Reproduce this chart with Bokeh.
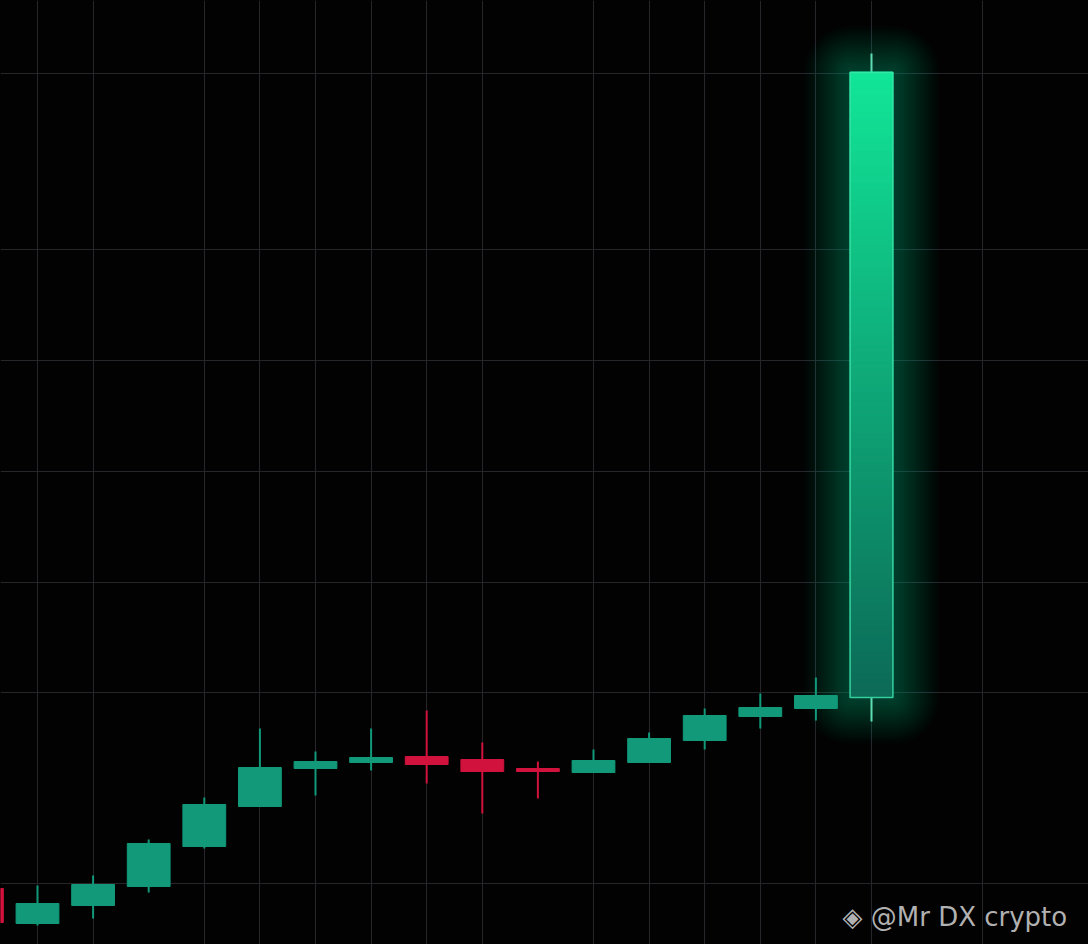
import numpy as np
from bokeh.plotting import figure
from bokeh.models import Range1d, Grid, FixedTicker, ColumnDataSource, Label, GlobalInlineStyleSheet
from bokeh.embed import file_html
from bokeh.resources import INLINE

# ---- data (price units) ----
idx   = [-1, 0, 1, 2, 3, 4, 5, 6, 7, 8, 9, 10, 11, 12, 13, 14, 15]
opens = [5.6, 2.1, 3.9, 5.8, 9.8, 13.8, 17.6, 18.2, 18.8, 18.5, 17.6, 17.2, 18.2, 20.4, 22.8, 23.6, 24.7]
closes= [2.2, 4.1, 6.0, 10.1, 14.0, 17.7, 18.3, 18.7, 18.0, 17.3, 17.3, 18.4, 20.6, 22.9, 23.7, 24.9, 87.2]
highs = [5.6, 5.9, 6.9, 10.5, 14.7, 21.6, 19.3, 21.6, 23.4, 20.2, 18.3, 19.5, 21.2, 23.6, 25.1, 26.7, 89.1]
lows  = [2.2, 1.9, 2.6, 5.2, 9.6, 13.8, 14.9, 17.4, 16.1, 13.1, 14.6, 17.2, 18.2, 19.5, 21.6, 22.4, 22.3]

x_grid = [0, 1, 3, 4, 5, 6, 7, 8, 10, 11, 12, 13, 14, 15, 17]
y_grid = [6.1, 25.2, 36.2, 47.3, 58.4, 69.5, 87.1]

UP = "#11997a"
DOWN = "#d0123c"
BG = "#020202"
GRID = "#25252a"

W, H = 1088, 944
x0, x1 = -0.6655, 18.903
y0, y1 = 0.0, 94.4
px_x = (x1 - x0) / W
px_y = (y1 - y0) / H

p = figure(width=W, height=H, x_range=Range1d(x0, x1), y_range=Range1d(y0, y1),
           x_axis_type=None, y_axis_type=None, toolbar_location=None,
           output_backend="svg", min_border=0, background_fill_color=BG,
           border_fill_color=BG, outline_line_color=None)
p.stylesheets = [GlobalInlineStyleSheet(css="body{background:#020202;}")]

p.add_layout(Grid(dimension=0, ticker=FixedTicker(ticks=x_grid), grid_line_color=GRID, grid_line_width=1))
p.add_layout(Grid(dimension=1, ticker=FixedTicker(ticks=y_grid), grid_line_color=GRID, grid_line_width=1))

colors = [UP if c >= o else DOWN for o, c in zip(opens, closes)]
src = ColumnDataSource(dict(x=idx, top=[max(o, c) for o, c in zip(opens, closes)],
                            bottom=[min(o, c) for o, c in zip(opens, closes)],
                            high=highs, low=lows, color=colors))
small = ColumnDataSource({k: v[:-1] for k, v in src.data.items()})

# glow for the last (big) candle
bw = 0.77
o, c, hi, lo, xi = opens[-1], closes[-1], highs[-1], lows[-1], idx[-1]
for k in range(1, 22):
    s = k * 2.2
    p.quad(left=[xi - bw / 2 - s * px_x], right=[xi + bw / 2 + s * px_x], top=[c + s * px_y],
           bottom=[o - s * px_y], fill_color="#12c98a", fill_alpha=0.021, line_color=None,
           border_radius=int(round(s)))

# regular candles
p.segment(x0="x", y0="high", x1="x", y1="low", line_color="color", line_width=2, source=small)
p.vbar(x="x", top="top", bottom="bottom", width=bw, fill_color="color", line_color="color", source=small)

# big candle: wick + gradient body
p.segment(x0=[xi], y0=[hi], x1=[xi], y1=[lo], line_color="#5fdcb2", line_width=2)
n = 80
edges = np.linspace(o, c, n + 1)
top_rgb = np.array([0x12, 0xe6, 0x98])
bot_rgb = np.array([0x0c, 0x6a, 0x57])
cols = []
for i in range(n):
    t = (i + 0.5) / n
    rgb = (bot_rgb * (1 - t) + top_rgb * t).astype(int)
    cols.append("#%02x%02x%02x" % tuple(rgb))
p.quad(left=[xi - bw / 2] * n, right=[xi + bw / 2] * n, bottom=edges[:-1], top=edges[1:] + 0.05,
       fill_color=cols, line_color=cols, line_width=1)
p.quad(left=[xi - bw / 2], right=[xi + bw / 2], bottom=[o], top=[c], fill_color=None,
       line_color="#3fe8ad", line_width=1.5, line_alpha=0.8)

# watermark
p.add_layout(Label(x=842, y=28, x_units="screen", y_units="screen", text="◈ @Mr DX crypto",
                   text_color="#d2d2d2", text_alpha=0.85, text_font_size="26px",
                   text_baseline="middle", text_font="DejaVu Sans"))

open("out.html", "w").write(file_html(p, INLINE))
